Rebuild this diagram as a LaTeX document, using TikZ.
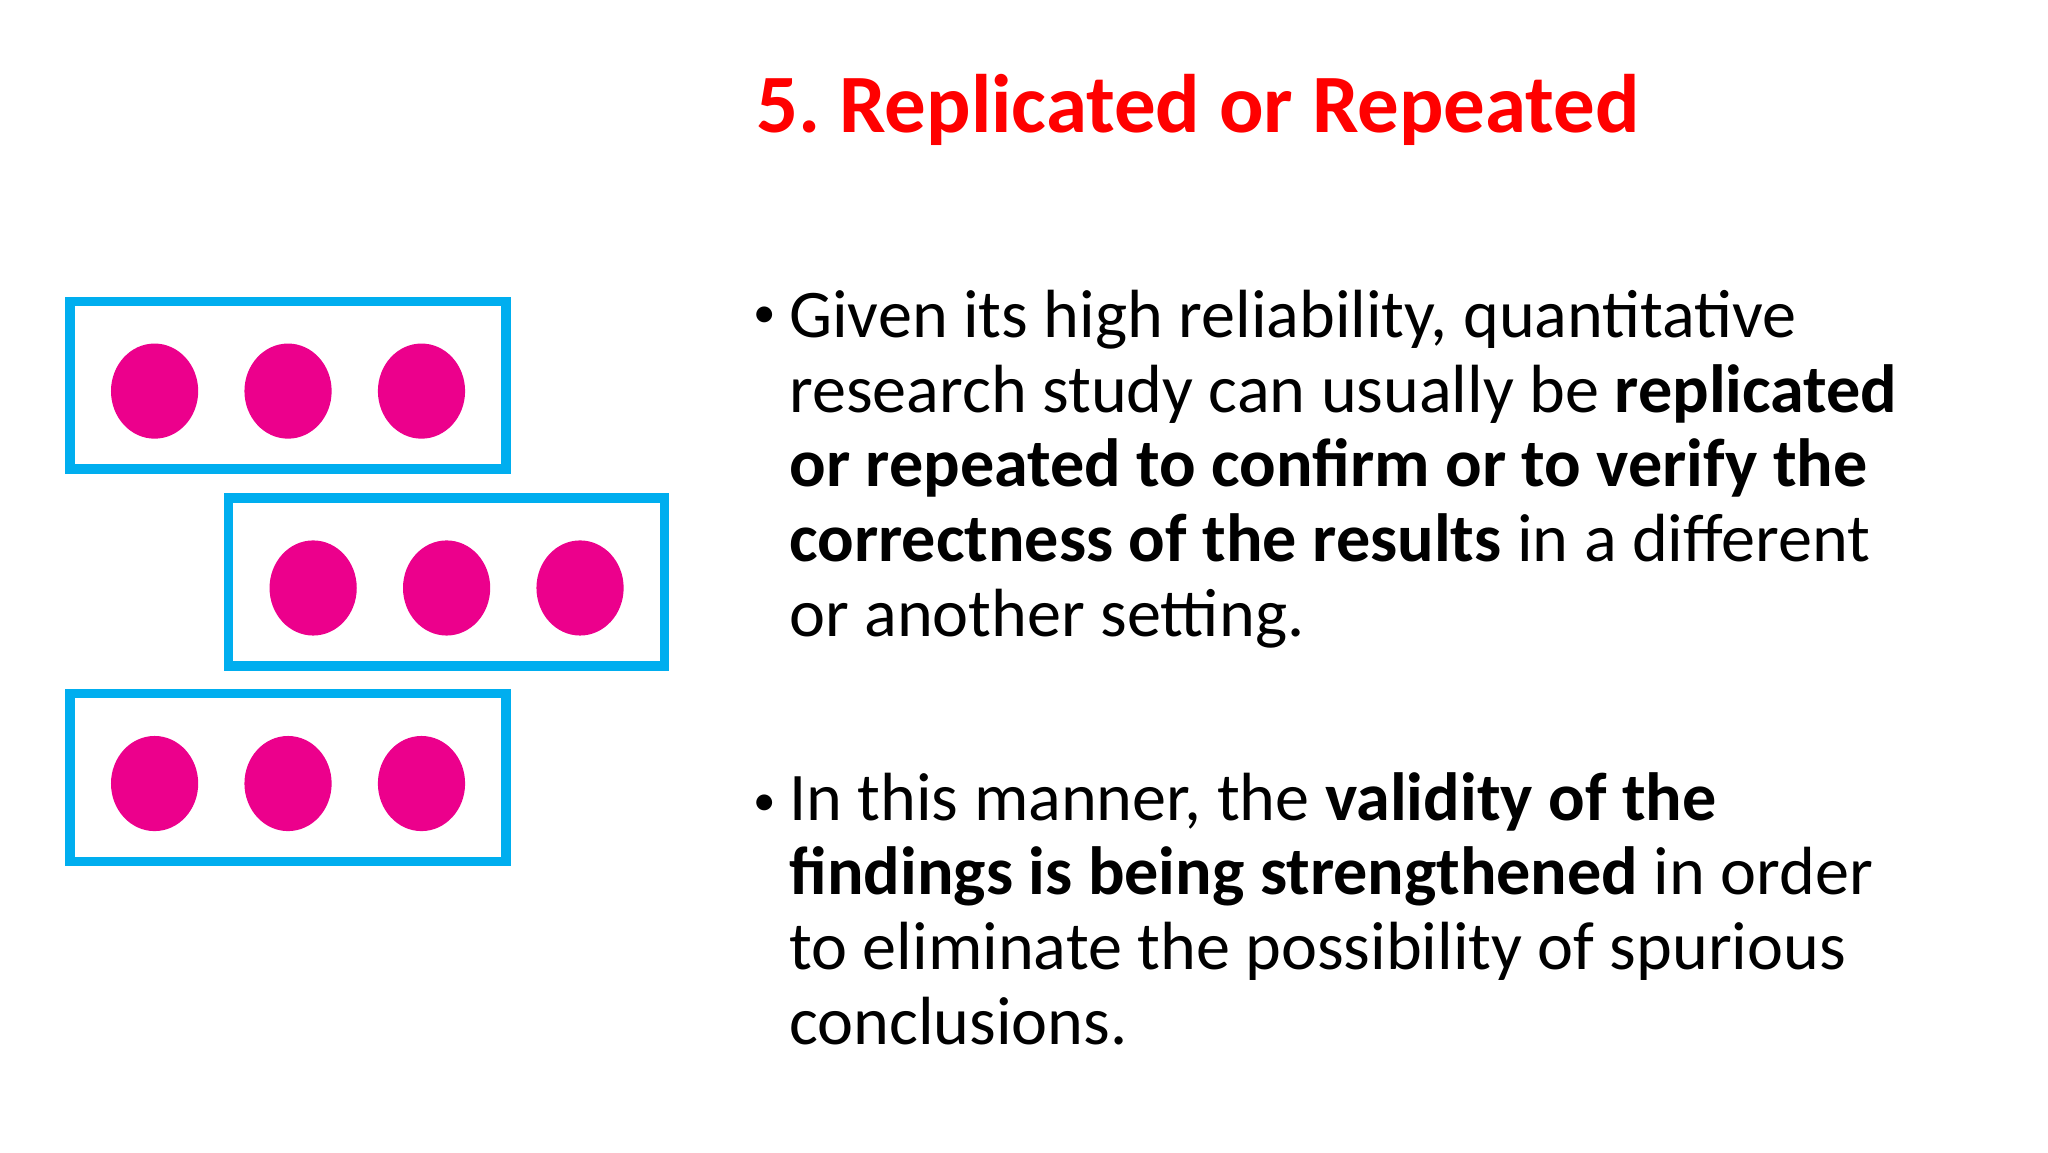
\documentclass[tikz,border=0pt]{standalone}
\usepackage{fontspec}
\setmainfont{Carlito}
\frenchspacing
\definecolor{dotc}{HTML}{EC008C}
\definecolor{boxc}{HTML}{00AEEF}
\definecolor{titlec}{HTML}{FF0000}
\begin{document}
\begin{tikzpicture}[x=0.5pt,y=-0.5pt,
  box/.style={draw=boxc,line width=3.6pt},
  dot/.style={fill=dotc,draw=none},
  body/.style={anchor=north west,align=left,inner sep=0pt,font=\fontsize{25.8}{28.3}\selectfont},
  bul/.style={anchor=base,inner sep=0pt,font=\fontsize{17}{17}\selectfont}]
\useasboundingbox (0,0) rectangle (1550,872);
\node[anchor=base west,inner sep=0pt,text=titlec,font=\fontsize{31.4}{33}\selectfont\bfseries] (title) at (572,100) {5. Replicated or Repeated};
\foreach \n/\x/\y in {a/53/228,b/173/377,c/53/525}{
  \draw[box] (\x,\y) rectangle ++(330,127);
  \foreach \i/\dx in {1/64,2/165,3/266}{
    \fill[dot] (\x+\dx,\y+68) ellipse [x radius=33,y radius=36];
  }
}
\node[bul] (b1) at (579,248) {•};
\node[body] (t1) at (597,219) {Given its high reliability, quantitative\\
research study can usually be \textbf{replicated}\\
\textbf{or repeated to confirm or to verify the}\\
\textbf{correctness of the results} in a different\\
or another setting.};
\node[bul] (b2) at (579,617) {•};
\node[body] (t2) at (597,584) {In this manner, the \textbf{validity of the}\\
\textbf{findings is being strengthened} in order\\
to eliminate the possibility of spurious\\
conclusions.};
\end{tikzpicture}
\end{document}
